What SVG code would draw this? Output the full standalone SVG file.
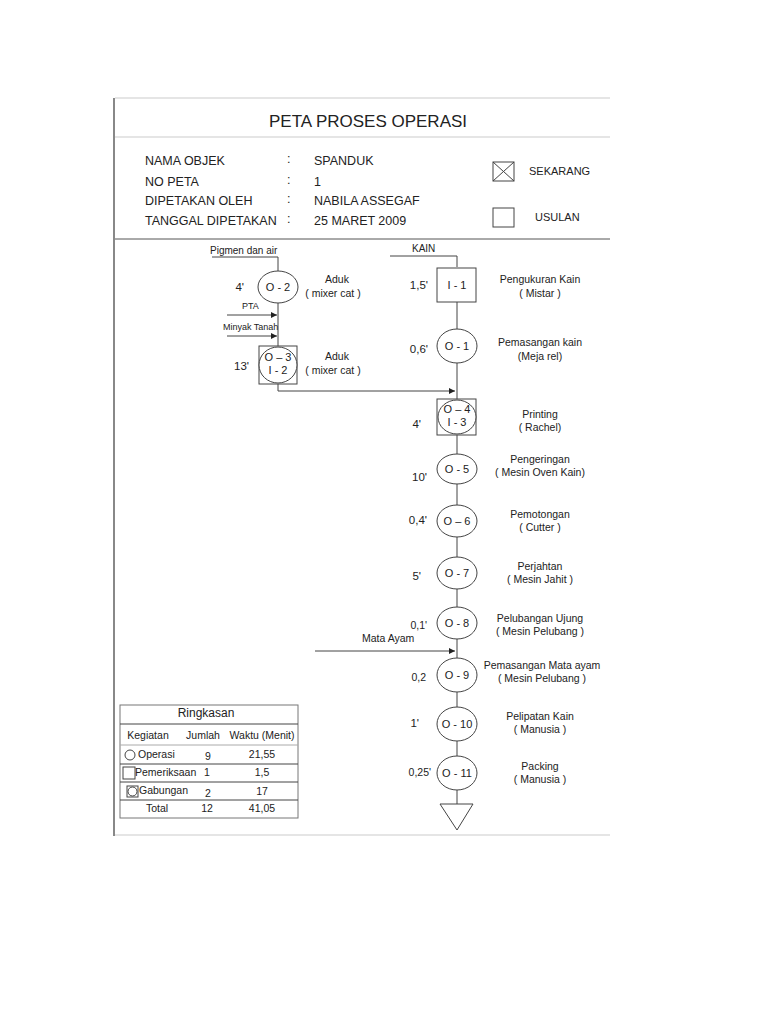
<svg xmlns="http://www.w3.org/2000/svg" width="768" height="1024" viewBox="0 0 768 1024">
<style>
text{font-family:"Liberation Sans",Arial,sans-serif;fill:#222}
.h{font-size:12.5px}
.t{font-size:10.5px;text-anchor:middle}
.m{font-size:11.5px;text-anchor:end}
.s{font-size:9px}
.nd{fill:#fff;stroke:#444;stroke-width:1}
.ln{fill:none;stroke:#444;stroke-width:1}
.lt{fill:none;stroke:#ddd;stroke-width:1.5}
.nl{font-size:11px;text-anchor:middle}
</style>
<defs>
<marker id="ah" viewBox="0 0 10 10" refX="10" refY="5" markerWidth="10" markerHeight="6" orient="auto" markerUnits="userSpaceOnUse"><path d="M0,0 L10,5 L0,10 z" fill="#222"/></marker>
</defs>
<rect width="768" height="1024" fill="#fff"/>
<g id="frame">
<line x1="114" y1="98" x2="114" y2="836" stroke="#888" stroke-width="2"/>
<line x1="115" y1="98" x2="610" y2="98" class="lt"/>
<line x1="115" y1="137" x2="610" y2="137" class="lt"/>
<line x1="115" y1="239" x2="610" y2="239" stroke="#555" stroke-width="1"/>
<line x1="115" y1="835" x2="610" y2="835" class="lt"/>
</g>
<g id="header">
<text x="368" y="127" style="font-size:17px;text-anchor:middle">PETA PROSES OPERASI</text>
<text x="145" y="165" class="h">NAMA OBJEK</text>
<text x="145" y="186" class="h">NO PETA</text>
<text x="145" y="205" class="h">DIPETAKAN OLEH</text>
<text x="145" y="225" class="h">TANGGAL DIPETAKAN</text>
<text x="287" y="163" class="h">:</text>
<text x="287" y="184" class="h">:</text>
<text x="287" y="203" class="h">:</text>
<text x="287" y="223" class="h">:</text>
<text x="314" y="165" class="h">SPANDUK</text>
<text x="314" y="186" class="h">1</text>
<text x="314" y="205" class="h">NABILA ASSEGAF</text>
<text x="314" y="225" class="h">25 MARET 2009</text>
<rect x="493" y="162" width="21" height="19" class="ln"/>
<path d="M493,162 L514,181 M514,162 L493,181" class="ln"/>
<text x="529" y="175" style="font-size:11px">SEKARANG</text>
<rect x="493" y="208" width="21" height="19" class="ln"/>
<text x="535" y="221" style="font-size:11px">USULAN</text>
</g>
<g id="connectors">
<path d="M212,257 H278 V271" class="ln"/>
<line x1="278" y1="303" x2="278" y2="346" class="ln"/>
<line x1="227" y1="315" x2="277" y2="315" class="ln" marker-end="url(#ah)"/>
<line x1="227" y1="336" x2="277" y2="336" class="ln" marker-end="url(#ah)"/>
<path d="M278,384 V391 H455" class="ln" marker-end="url(#ah)"/>
<path d="M390,256 H457 V267" class="ln"/>
<line x1="457" y1="302" x2="457" y2="804" class="ln"/>
<line x1="315" y1="651" x2="455" y2="651" class="ln" marker-end="url(#ah)"/>
<text x="242" y="309" class="s">PTA</text>
<text x="223" y="330" class="s">Minyak Tanah</text>
<text x="210" y="254" style="font-size:10px">Pigmen dan air</text>
<text x="412" y="252" style="font-size:10px">KAIN</text>
<text x="362" y="642" style="font-size:10.5px">Mata Ayam</text>
</g>
<g id="n-o2"><ellipse cx="278" cy="287" rx="20" ry="16" class="nd"/><text x="278" y="291" class="nl">O - 2</text>
<text x="244" y="291" class="m">4'</text><text x="337" y="283" class="t">Aduk</text><text x="333" y="297" class="t">( mixer cat )</text></g>
<g id="n-o3i2"><rect x="259" y="346" width="38" height="38" class="nd"/><ellipse cx="278" cy="365" rx="19" ry="18" class="nd"/>
<text x="278" y="361" class="nl">O – 3</text><text x="278" y="374" class="nl">I - 2</text>
<text x="249" y="370" class="m">13'</text><text x="337" y="360" class="t">Aduk</text><text x="333" y="374" class="t">( mixer cat )</text></g>
<g id="n-i1"><rect x="437" y="268" width="39" height="34" class="nd"/><text x="457" y="289" class="nl">I - 1</text>
<text x="428" y="289" class="m">1,5'</text><text x="540" y="283" class="t">Pengukuran Kain</text><text x="540" y="297" class="t">( Mistar )</text></g>
<g id="n-o1"><ellipse cx="457" cy="346" rx="20" ry="17" class="nd"/><text x="457" y="350" class="nl">O - 1</text>
<text x="428" y="353" class="m">0,6'</text><text x="540" y="346" class="t">Pemasangan kain</text><text x="540" y="360" class="t">(Meja rel)</text></g>
<g id="n-o4i3"><rect x="437" y="399" width="39" height="36" class="nd"/><ellipse cx="457" cy="417" rx="19" ry="17" class="nd"/>
<text x="457" y="413" class="nl">O – 4</text><text x="457" y="426" class="nl">I - 3</text>
<text x="421" y="428" class="m">4'</text><text x="540" y="418" class="t">Printing</text><text x="540" y="431" class="t">( Rachel)</text></g>
<g id="n-o5"><ellipse cx="457" cy="469" rx="20" ry="15" class="nd"/><text x="457" y="473" class="nl">O - 5</text>
<text x="427" y="481" class="m">10'</text><text x="540" y="463" class="t">Pengeringan</text><text x="540" y="476" class="t">( Mesin Oven Kain)</text></g>
<g id="n-o6"><ellipse cx="457" cy="521" rx="20" ry="16" class="nd"/><text x="457" y="525" class="nl">O – 6</text>
<text x="427" y="524" class="m">0,4'</text><text x="540" y="518" class="t">Pemotongan</text><text x="540" y="531" class="t">( Cutter )</text></g>
<g id="n-o7"><ellipse cx="457" cy="573" rx="20" ry="16" class="nd"/><text x="457" y="577" class="nl">O - 7</text>
<text x="421" y="580" class="m">5'</text><text x="540" y="570" class="t">Perjahtan</text><text x="540" y="583" class="t">( Mesin Jahit )</text></g>
<g id="n-o8"><ellipse cx="457" cy="623" rx="20" ry="16" class="nd"/><text x="457" y="627" class="nl">O - 8</text>
<text x="427" y="629" class="m" style="font-size:10.5px">0,1'</text><text x="540" y="622" class="t">Pelubangan Ujung</text><text x="540" y="635" class="t">( Mesin Pelubang )</text></g>
<g id="n-o9"><ellipse cx="457" cy="675" rx="20" ry="17" class="nd"/><text x="457" y="679" class="nl">O - 9</text>
<text x="426" y="681" class="m" style="font-size:10.5px">0,2</text><text x="542" y="669" class="t">Pemasangan Mata ayam</text><text x="542" y="682" class="t">( Mesin Pelubang )</text></g>
<g id="n-o10"><ellipse cx="457" cy="724" rx="20" ry="17" class="nd"/><text x="457" y="728" class="nl">O - 10</text>
<text x="419" y="727" class="m">1'</text><text x="540" y="720" class="t">Pelipatan Kain</text><text x="540" y="733" class="t">( Manusia )</text></g>
<g id="n-o11"><ellipse cx="457" cy="773" rx="20" ry="17" class="nd"/><text x="457" y="777" class="nl">O - 11</text>
<text x="431" y="776" class="m" style="font-size:10.5px">0,25'</text><text x="540" y="770" class="t">Packing</text><text x="540" y="783" class="t">( Manusia )</text></g>
<g id="n-end"><path d="M440,804 L473,804 L457,830 z" class="nd"/></g>
<g id="summary">
<rect x="120" y="705" width="178" height="113" fill="#fff" stroke="#777" stroke-width="1"/>
<line x1="120" y1="724" x2="298" y2="724" class="ln"/>
<line x1="120" y1="745" x2="298" y2="745" stroke="#aaa"/>
<line x1="120" y1="764" x2="298" y2="764" class="ln"/>
<line x1="120" y1="782" x2="298" y2="782" class="ln"/>
<line x1="120" y1="800" x2="298" y2="800" class="ln"/>
<text x="206" y="717" style="font-size:12px;text-anchor:middle">Ringkasan</text>
<text x="148" y="739" class="t">Kegiatan</text>
<text x="203" y="739" class="t">Jumlah</text>
<text x="262" y="739" class="t">Waktu (Menit)</text>
<circle cx="130" cy="755" r="5" class="ln"/>
<text x="138" y="758" style="font-size:10.5px">Operasi</text>
<text x="208" y="760" class="t">9</text><text x="262" y="758" class="t">21,55</text>
<rect x="123" y="767" width="12" height="12" class="ln"/>
<text x="135" y="776" style="font-size:10.5px">Pemeriksaan</text>
<text x="207" y="776" class="t">1</text><text x="262" y="776" class="t">1,5</text>
<rect x="127" y="786" width="11" height="11" class="ln"/><circle cx="132.5" cy="791.5" r="4.5" class="ln"/>
<text x="139" y="794" style="font-size:10.5px">Gabungan</text>
<text x="208" y="797" class="t">2</text><text x="262" y="795" class="t">17</text>
<text x="157" y="812" class="t">Total</text>
<text x="207" y="812" class="t">12</text><text x="262" y="812" class="t">41,05</text>
</g>
</svg>
